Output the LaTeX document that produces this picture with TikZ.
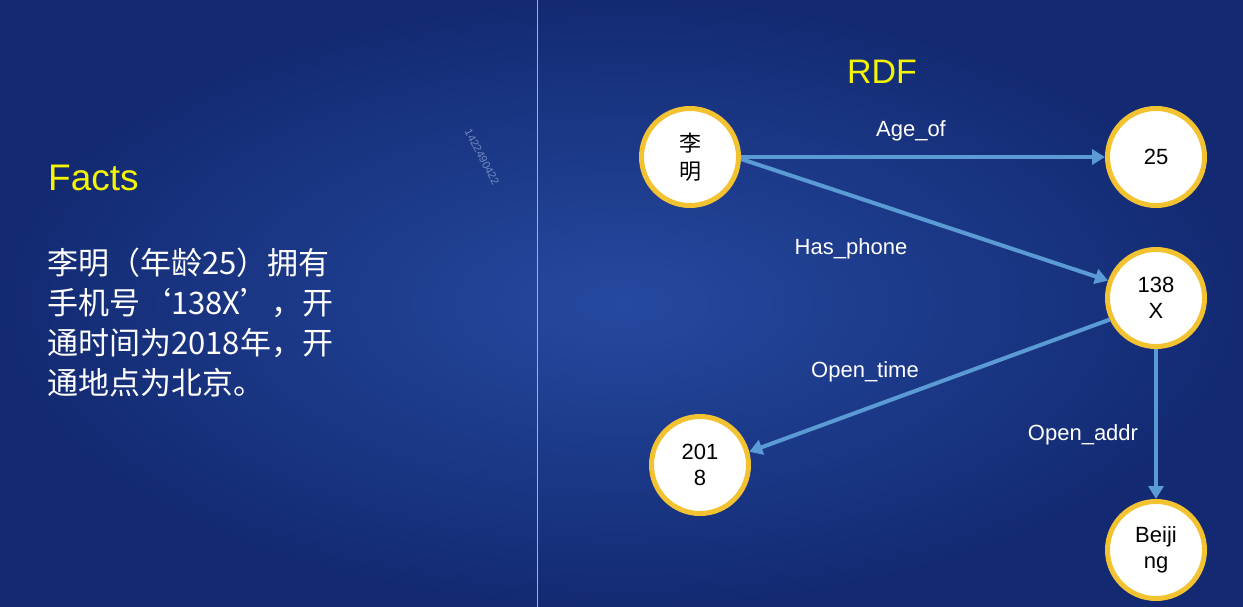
\documentclass[tikz,border=0pt]{standalone}
\usepackage{fontspec}
\setmainfont{Liberation Sans}
\newfontfamily\cjk{Noto Sans CJK SC}
\usetikzlibrary{arrows.meta}
\definecolor{bgin}{HTML}{2549A0}
\definecolor{bgout}{HTML}{132A72}
\definecolor{ring}{HTML}{F2C230}
\definecolor{arr}{HTML}{5B9BD5}
\definecolor{ylw}{HTML}{F5F500}
\tikzset{
  ent/.style={circle,draw=ring,line width=5pt,fill=white,minimum size=97pt,inner sep=0pt,align=center,font=\fontsize{22}{26}\selectfont,text=black},
  rel/.style={draw=arr,line width=4pt,-{Triangle[length=13pt,width=15pt]}},
  lbl/.style={text=white,font=\fontsize{22}{26}\selectfont}
}
\begin{document}
\begin{tikzpicture}[x=1pt,y=-1pt]
\useasboundingbox (0,0) rectangle (1243,607);
\shade[inner color=bgin,outer color=bgout] (0,0) rectangle (1243,607);
\draw[arr!70,line width=1pt] (537,0) -- (537,607);
\node[text=ylw,font=\fontsize{37}{44}\selectfont,anchor=west,inner sep=0pt] (facts) at (48,178) {Facts};
\node[text=white,anchor=north west,align=left,inner sep=0pt,font=\cjk\fontsize{31}{40}\selectfont] (txt) at (47,248) {李明（年龄25）拥有\\手机号‘138X’，开\\通时间为2018年，开\\通地点为北京。};
\node[text=white!35!bgin,rotate=-62,font=\fontsize{11}{13}\selectfont] (wm) at (482,157) {1422490422};
\node[text=ylw,font=\fontsize{34}{40}\selectfont] (rdf) at (882,72) {RDF};
\node[ent,font=\cjk\fontsize{22}{28}\selectfont] (lm) at (690,157) {李\\明};
\node[ent] (n25) at (1156,157) {25};
\node[ent] (n138) at (1156,298) {138\\X};
\node[ent] (n2018) at (700,465) {201\\8};
\node[ent] (bj) at (1156,550) {Beiji\\ng};
\draw[rel] (lm.east) -- (n25.west);
\draw[rel] ([yshift=-2pt]lm.east) -- (n138.160);
\draw[rel] (n138.205) -- (n2018.15);
\draw[rel] (n138.south) -- (bj.north);
\node[lbl] (l1) at (911,131) {Age\_of};
\node[lbl] (l2) at (851,249) {Has\_phone};
\node[lbl] (l3) at (865,372) {Open\_time};
\node[lbl] (l4) at (1083,435) {Open\_addr};
\end{tikzpicture}
\end{document}
